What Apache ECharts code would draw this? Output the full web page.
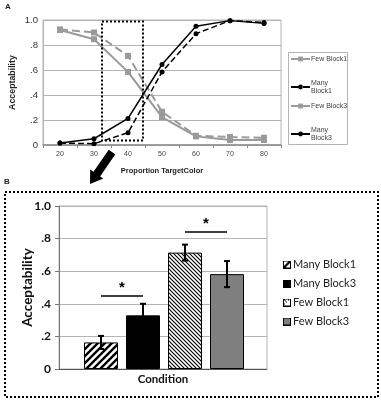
<!DOCTYPE html>
<html>
<head>
<meta charset="utf-8">
<script src="https://cdn.jsdelivr.net/npm/echarts@6/dist/echarts.min.js"></script>
<style>
  html, body { margin: 0; padding: 0; background: #fff; }
  #main { width: 381px; height: 400px; }
</style>
</head>
<body>
<div id="main"></div>
<script>
// panel A: acceptability by proportion of target colour
var proportions = ['20', '30', '40', '50', '60', '70', '80']
var fewBlock1 = [0.925, 0.90, 0.713, 0.266, 0.074, 0.064, 0.058]
var manyBlock1 = [0.016, 0.010, 0.098, 0.585, 0.890, 0.995, 0.980]
var fewBlock3 = [0.920, 0.846, 0.585, 0.223, 0.069, 0.040, 0.040]
var manyBlock3 = [0.016, 0.050, 0.213, 0.644, 0.950, 0.995, 0.973]

// panel B: mean acceptability at 40 per condition
var conditions = ['Many Block1', 'Many Block3', 'Few Block1', 'Few Block3']
var barMeans = [0.163, 0.329, 0.714, 0.582]
var barErrors = [0.040, 0.071, 0.049, 0.080]
var sigPairs = [[0, 1, 0.447], [2, 3, 0.839]]

var gray = '#9a9a9a'
var gridGray = '#b4b4b4'

function tickLabel(v) {
  if (v === 0) return '0'
  if (v === 1) return '1.0'
  return '.' + Math.round(v * 10)
}

function drawStripes(g, size, width, up) {
  g.strokeStyle = '#000'
  g.lineWidth = width
  g.beginPath()
  if (up) {
    g.moveTo(0, size); g.lineTo(size, 0)
    g.moveTo(-size / 2, size / 2); g.lineTo(size / 2, -size / 2)
    g.moveTo(size / 2, size * 1.5); g.lineTo(size * 1.5, size / 2)
  } else {
    g.moveTo(0, 0); g.lineTo(size, size)
    g.moveTo(-size / 2, size / 2); g.lineTo(size / 2, size * 1.5)
    g.moveTo(size / 2, -size / 2); g.lineTo(size * 1.5, size / 2)
  }
  g.stroke()
}

function stripes(size, width, up) {
  var c = document.createElement('canvas')
  c.width = c.height = size
  var g = c.getContext('2d')
  g.fillStyle = '#fff'
  g.fillRect(0, 0, size, size)
  drawStripes(g, size, width, up)
  return { image: c, repeat: 'repeat' }
}

// little legend squares for panel B
function legendIcon(kind) {
  var s = 8
  var c = document.createElement('canvas')
  c.width = c.height = s
  var g = c.getContext('2d')
  g.fillStyle = kind === 'black' ? '#000' : kind === 'gray' ? '#7f7f7f' : '#fff'
  g.fillRect(0, 0, s, s)
  if (kind === 'up') drawStripes(g, s, 2.2, true)
  if (kind === 'down') drawStripes(g, s / 2, 1, false)
  g.strokeStyle = '#000'
  g.lineWidth = 1
  g.strokeRect(0.5, 0.5, s - 1, s - 1)
  return 'image://' + c.toDataURL()
}

var barFills = [stripes(7, 2.4, true), '#000', stripes(4, 1.1, false), '#7f7f7f']
var iconKinds = ['up', 'black', 'down', 'gray']

function oneBar(i) {
  return conditions.map(function (c, j) { return j === i ? barMeans[i] : '-' })
}

var fontA = 'Liberation Sans'
var fontB = 'Lato'

var lineSeries = [
  { name: 'Few Block1', data: fewBlock1, color: gray, type: 'dashed', width: 2, symbol: 'rect', size: 6 },
  { name: 'Many Block1', data: manyBlock1, color: '#000', type: 'dashed', width: 1.5, symbol: 'circle', size: 5 },
  { name: 'Few Block3', data: fewBlock3, color: gray, type: 'solid', width: 2, symbol: 'rect', size: 6 },
  { name: 'Many Block3', data: manyBlock3, color: '#000', type: 'solid', width: 1.5, symbol: 'circle', size: 5 }
].map(function (s) {
  return {
    name: s.name,
    type: 'line',
    xAxisIndex: 0,
    yAxisIndex: 0,
    data: s.data,
    symbol: s.symbol,
    symbolSize: s.size,
    itemStyle: { color: s.color },
    lineStyle: { color: s.color, width: s.width, type: s.type },
    z: s.color === '#000' ? 3 : 2
  }
})

var legendTopsA = [55, 79, 102, 126]
var legendsA = lineSeries.map(function (s, i) {
  return {
    data: [s.name],
    left: 290,
    top: legendTopsA[i],
    padding: 0,
    itemWidth: 19,
    itemHeight: 6,
    itemGap: 0,
    formatter: function (n) { return n.indexOf('Many') === 0 ? n.replace(' ', '\n') : n },
    textStyle: { fontFamily: fontA, fontSize: 7, color: '#444', lineHeight: 8, padding: [0, 0, 0, -4] }
  }
})

var barSeries = conditions.map(function (c, i) {
  return {
    name: c,
    type: 'bar',
    xAxisIndex: 2,
    yAxisIndex: 2,
    data: oneBar(i),
    barWidth: 34,
    barGap: '-100%',
    itemStyle: { color: barFills[i], borderColor: '#000', borderWidth: 1 }
  }
})

var errorSeries = {
  type: 'custom',
  xAxisIndex: 2,
  yAxisIndex: 2,
  z: 5,
  data: barMeans.map(function (m, i) { return [i, m - barErrors[i], m + barErrors[i]] }),
  renderItem: function (params, api) {
    var lo = api.coord([api.value(0), api.value(1)])
    var hi = api.coord([api.value(0), api.value(2)])
    var w = 3
    var st = { stroke: '#000', lineWidth: 2 }
    return {
      type: 'group',
      children: [
        { type: 'line', shape: { x1: lo[0], y1: lo[1], x2: hi[0], y2: hi[1] }, style: st },
        { type: 'line', shape: { x1: lo[0] - w, y1: lo[1], x2: lo[0] + w, y2: lo[1] }, style: st },
        { type: 'line', shape: { x1: hi[0] - w, y1: hi[1], x2: hi[0] + w, y2: hi[1] }, style: st }
      ]
    }
  },
  markLine: {
    silent: true,
    symbol: 'none',
    animation: false,
    lineStyle: { color: '#000', width: 1.5, type: 'solid' },
    label: {
      show: true,
      position: 'insideMiddleTop',
      formatter: '*',
      fontFamily: fontA,
      fontWeight: 'bold',
      fontSize: 15,
      color: '#000',
      distance: 1
    },
    data: sigPairs.map(function (p) {
      return [{ coord: [p[0], p[2]] }, { coord: [p[1], p[2]] }]
    })
  }
}

var chart = echarts.init(document.getElementById('main'), null, { renderer: 'canvas' })

chart.setOption({
  animation: false,
  backgroundColor: '#fff',
  grid: [
    { left: 32, right: 100, top: 20, height: 125, show: true, borderColor: gridGray, borderWidth: 1 },
    { left: 59, right: 114, top: 206, height: 163, show: true, borderColor: gridGray, borderWidth: 1 },
    { left: 80, width: 168, top: 206, height: 163 }
  ],
  xAxis: [
    {
      gridIndex: 0,
      type: 'category',
      data: proportions,
      boundaryGap: true,
      axisLine: { lineStyle: { color: '#8c8c8c', width: 1.5 } },
      axisTick: { show: true, length: 3, lineStyle: { color: '#8c8c8c' } },
      axisLabel: { fontFamily: fontA, fontSize: 7, color: '#444', margin: 6 },
      name: 'Proportion TargetColor',
      nameLocation: 'middle',
      nameGap: 22,
      nameMoveOverlap: false,
      nameTextStyle: { fontFamily: fontA, fontSize: 7.5, fontWeight: 'bold', color: '#222' }
    },
    {
      gridIndex: 1,
      type: 'category',
      data: ['Condition'],
      axisLine: { lineStyle: { color: '#555', width: 1 } },
      axisTick: { show: false },
      axisLabel: { show: false },
      name: 'Condition',
      nameLocation: 'middle',
      nameGap: 4,
      nameMoveOverlap: false,
      nameTextStyle: { fontFamily: fontB, fontSize: 11.5, fontWeight: 'bold', color: '#111' }
    },
    { gridIndex: 2, type: 'category', data: conditions, show: false }
  ],
  yAxis: [
    {
      gridIndex: 0,
      type: 'value',
      min: 0, max: 1, interval: 0.2,
      axisLine: { show: true, lineStyle: { color: gridGray } },
      axisTick: { show: false },
      splitLine: { lineStyle: { color: gridGray, width: 1 } },
      axisLabel: { fontFamily: fontA, fontSize: 9.6, color: '#333', margin: 5, formatter: tickLabel },
      name: 'Acceptability',
      nameLocation: 'middle',
      nameGap: 26,
      nameMoveOverlap: false,
      nameTextStyle: { fontFamily: fontA, fontSize: 8.8, fontWeight: 'bold', color: '#222' }
    },
    {
      gridIndex: 1,
      type: 'value',
      min: 0, max: 1, interval: 0.2,
      axisLine: { show: true, lineStyle: { color: '#777' } },
      axisTick: { show: true, length: 4, lineStyle: { color: '#777' } },
      splitLine: { lineStyle: { color: gridGray, width: 1 } },
      axisLabel: { fontFamily: fontB, fontSize: 12, fontWeight: 'bold', color: '#111', margin: 8, formatter: tickLabel },
      name: 'Acceptability',
      nameLocation: 'middle',
      nameGap: 24,
      nameMoveOverlap: false,
      nameTextStyle: { fontFamily: fontB, fontSize: 13.5, fontWeight: 'bold', color: '#111' }
    },
    { gridIndex: 2, type: 'value', min: 0, max: 1, show: false }
  ],
  legend: legendsA.concat([{
    data: conditions.map(function (c, i) { return { name: c, icon: legendIcon(iconKinds[i]) } }),
    orient: 'vertical',
    left: 283,
    top: 259,
    padding: 0,
    itemWidth: 8,
    itemHeight: 8,
    itemGap: 8,
    textStyle: { fontFamily: fontB, fontSize: 11, color: '#222', padding: [0, 0, 0, -3] }
  }]),
  series: lineSeries.concat(barSeries, [errorSeries]),
  graphic: [
    { type: 'text', left: 5, top: 3, style: { text: 'A', font: 'bold 8px ' + fontA, fill: '#222' } },
    { type: 'text', left: 4, top: 178, style: { text: 'B', font: 'bold 8px ' + fontA, fill: '#222' } },
    // dotted box around the 40 point in A
    { type: 'rect', shape: { x: 102, y: 21.5, width: 41, height: 119 }, style: { fill: null, stroke: '#000', lineWidth: 2, lineDash: [2, 2] }, z: 10 },
    // legend box A
    { type: 'rect', shape: { x: 288.5, y: 52.5, width: 59, height: 92 }, style: { fill: null, stroke: gridGray, lineWidth: 1 } },
    // arrow
    { type: 'polygon', shape: { points: [[115.3, 154.3], [100.1, 176.4], [103.4, 178.6], [90, 184], [90.2, 169.6], [93.5, 171.8], [108.7, 149.7]] }, style: { fill: '#000' } },
    // dotted frame around B
    { type: 'rect', shape: { x: 5, y: 192, width: 373, height: 205 }, style: { fill: null, stroke: '#000', lineWidth: 2, lineDash: [2, 2] } }
  ]
})
</script>
</body>
</html>
